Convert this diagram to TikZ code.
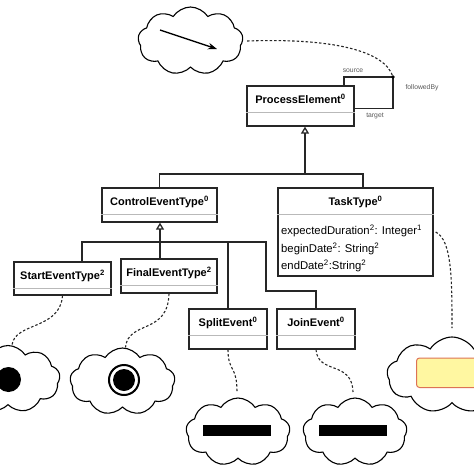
\documentclass[tikz,border=0pt]{standalone}
\usepackage{fontspec}
\setmainfont{Liberation Sans}
\usepackage{tikz}
\usetikzlibrary{arrows.meta,positioning,calc,shapes.symbols}
\definecolor{noteyellow}{HTML}{FFF7A1}
\definecolor{noteedge}{HTML}{DD7355}

\begin{document}
\begin{tikzpicture}[x=1pt,y=-1pt,
  classbox/.style={draw=black!85,line width=1.3pt,fill=white},
  sepline/.style={gray!55,line width=0.9pt},
  classname/.style={font=\fontsize{11}{13}\selectfont\bfseries,inner sep=0pt,anchor=base},
  link/.style={black!85,line width=1.3pt},
  gen/.style={link,-{Triangle[open,length=7pt,width=8pt]}},
  dotlink/.style={black!85,line width=1.1pt,dash pattern=on 2.5pt off 2pt},
  cloudy/.style={draw,cloud,cloud puffs=9,cloud puff arc=115,cloud ignores aspect,line width=1.1pt,fill=white},
  rolelabel/.style={font=\fontsize{6.8}{8}\selectfont,text=black!65,inner sep=0pt}]
  \path[use as bounding box,fill=white] (0,0) rectangle (474,474);

  % Class boxes (UML style)
  \foreach \nm/\cx/\cy/\w/\h/\txt in {
    pe/300.5/106/107/40/{ProcessElement\textsuperscript{0}},
    cet/159.5/205/115/34/{ControlEventType\textsuperscript{0}},
    tt/355.5/232/155/88/{TaskType\textsuperscript{0}},
    set/62.5/278.5/97/33/{StartEventType\textsuperscript{2}},
    fet/169/276/96/34/{FinalEventType\textsuperscript{2}},
    split/228/329/78/40/{SplitEvent\textsuperscript{0}},
    join/316/329/78/40/{JoinEvent\textsuperscript{0}}}{
    \node[classbox,minimum width=\w,minimum height=\h] (\nm) at (\cx,\cy) {};
    \node[classname] (\nm-title) at ([yshift=-18.5]\nm.north) {\txt};
    \draw[sepline] ([yshift=-27]\nm.north west) -- ([yshift=-27]\nm.north east);
  }
  \node[anchor=west,align=left,inner sep=0pt,font=\fontsize{11.3}{17.5}\selectfont]
    (tt-attr) at (281,248.5)
    {expectedDuration\textsuperscript{2}: Integer\textsuperscript{1}\\
     beginDate\textsuperscript{2}: String\textsuperscript{2}\\
     endDate\textsuperscript{2}:String\textsuperscript{2}};

  % Generalisation trees
  \coordinate (j1) at (305,174);
  \coordinate (ttTop) at ([xshift=7.5]tt.north);
  \draw[link] (cet.north) |- (j1) -| (ttTop);
  \draw[gen] (j1) -- (pe.south -| j1);
  \coordinate (j2) at (160,242);
  \coordinate (setTop) at ([xshift=19.5]set.north);
  \coordinate (fetTop) at ([xshift=-9]fet.north);
  \coordinate (bend) at (266,291);
  \draw[gen] (j2) -- (cet.south -| j2);
  \draw[link] (setTop) |- (j2) -- (fetTop);
  \draw[link] (j2) -| (split.north);
  \draw[link] (j2) -| (bend) -| (join.north);

  % Self association
  \coordinate (fb) at (393,77);
  \draw[link] ([xshift=43.5]pe.north) |- (fb) |- ([yshift=-23]pe.north east);
  \fill (fb) circle (1.9);
  \node[rolelabel] (src) at (353,71) {source};
  \node[rolelabel] (tgt) at (375,116) {target};
  \node[rolelabel] (fbl) at (422,88) {followedBy};

  % Clouds with notation
  \node[cloudy,minimum width=105,minimum height=68] (tc) at (190.5,41) {};
  \coordinate (arrS) at (160,30);
  \coordinate (arrE) at (217,49);
  \draw[line width=1.3pt,-{Stealth[length=9pt,width=6.5pt]}] (arrS) -- (arrE);

  \node[cloudy,minimum width=104,minimum height=67] (sc) at (8,379) {};
  \fill (8.5,379.5) circle (12.5);

  \node[cloudy,minimum width=105,minimum height=67] (fc) at (122.5,381.5) {};
  \draw[line width=2pt] (124,380) circle (15);
  \fill (124,380) circle (11);

  \node[cloudy,minimum width=104,minimum height=68] (spc) at (238,432) {};
  \fill (203,425) rectangle (271,436);

  \node[cloudy,minimum width=104,minimum height=68] (jc) at (355,432) {};
  \fill (319,425) rectangle (387,436);

  \node[cloudy,minimum width=130,minimum height=76] (tkc) at (452,375) {};
  \draw[noteedge,fill=noteyellow,line width=1pt,rounded corners=3pt] (416.5,358) rectangle (490,387.5);

  % Dotted links to the notation
  \draw[dotlink] ([xshift=4]tc.east) .. controls (330,38) and (385,50) .. (fb);
  \draw[dotlink] (set.south) .. controls (60,330) and (15,322) .. ([xshift=4]sc.north);
  \draw[dotlink] (fet.south) .. controls (168,335) and (128,320) .. ([xshift=3]fc.north);
  \draw[dotlink] (split.south) .. controls (228,372) and (237,365) .. (237,392);
  \draw[dotlink] (join.south) .. controls (318,375) and (352,360) .. (353,392);
  \draw[dotlink] ([xshift=2]tt.east) .. controls (452,240) and (452,280) .. (452,328);
\end{tikzpicture}
\end{document}
